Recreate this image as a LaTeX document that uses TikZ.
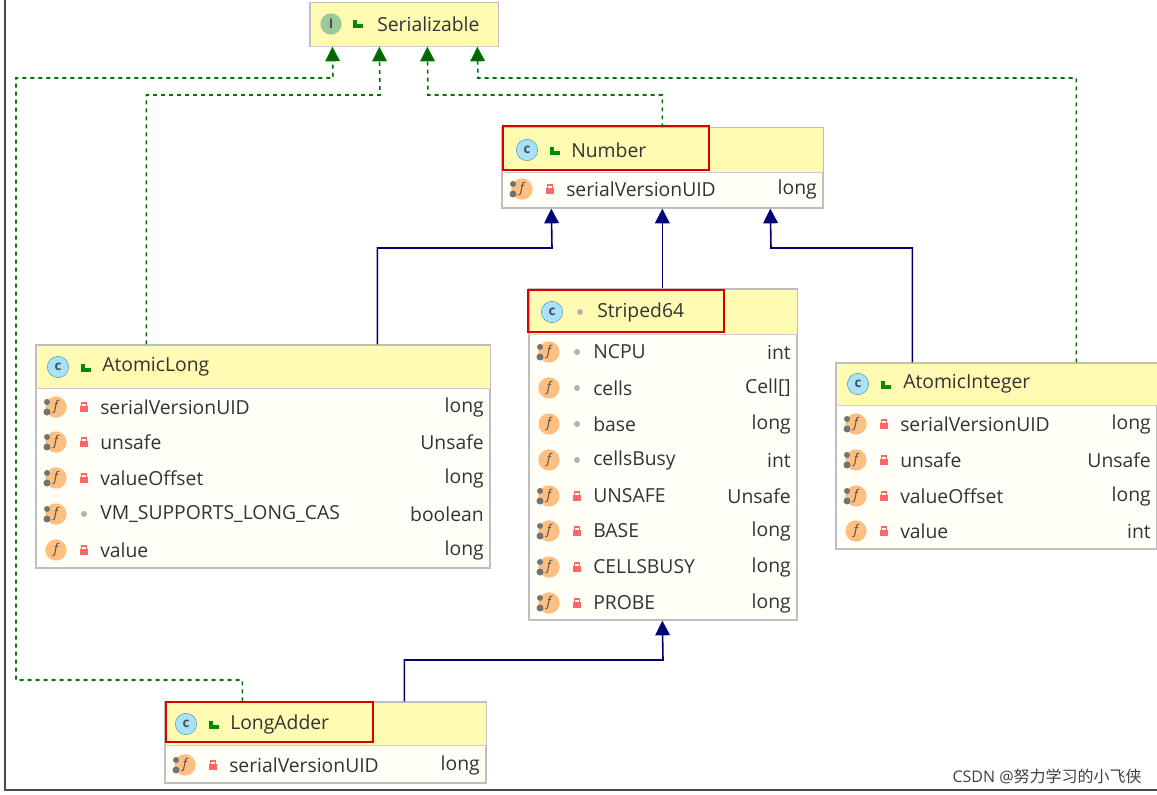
\documentclass[tikz,border=0pt]{standalone}
\usepackage{fontspec}
\setmainfont{Open Sans}
\newfontfamily\cjk{Noto Sans CJK SC}
\usetikzlibrary{fit,calc,arrows.meta}
\begin{document}
\begin{tikzpicture}[x=0.75pt,y=-0.75pt,
  box/.style={draw=black!25,fill=yellow!3,inner sep=0,line width=1pt},
  head/.style={fill=yellow!30},
  redbox/.style={draw=red!85!black,line width=1.6pt},
  impl/.style={draw=green!45!black,dashed,line width=1.2pt,-{Triangle[length=11pt,width=11pt,fill=green!40!black]}},
  ext/.style={draw=blue!45!black,line width=1.2pt,-{Triangle[length=11pt,width=11pt,fill=blue!50!black]}},
  txt/.style={font=\fontsize{14.5}{16}\selectfont,inner sep=0,anchor=west,text=black!80},
  ci/.style={circle,fill=cyan!35,draw=cyan!60!black,line width=0.3pt,inner sep=0,minimum size=16pt,font=\fontsize{10}{11}\selectfont\bfseries,text=black!70},
  fi/.style={circle,fill=orange!50,inner sep=0,minimum size=16pt,font=\fontsize{10}{11}\selectfont\itshape,text=black!70},
  ii/.style={circle,fill=green!30!gray!60,inner sep=0,minimum size=16pt,font=\fontsize{10}{11}\selectfont\bfseries,text=black!70},
]
\useasboundingbox (0,0) rectangle (1157,795);
\fill[white] (0,0) rectangle (1157,795);
\draw[black!70,line width=1pt] (5,0) -- (5,790) -- (1157,790);
\newcommand{\cls}[6]{% id x1 y1 x2 yhead y2
  \node[box,fit={(#2,#3) (#4,#6)}] (#1) {};
  \fill[head] (#2+0.5,#3+0.5) rectangle (#4-0.5,#5);
  \draw[black!20] (#2,#5) -- (#4,#5);}
\newcommand{\pub}[2]{\fill[green!55!black] (#1-5,#2-4) rectangle (#1-1,#2+4); \fill[green!55!black] (#1-1,#2) rectangle (#1+5,#2+4);}
\newcommand{\lck}[2]{\fill[red!60] (#1-4,#2-1) rectangle (#1+4,#2+5); \draw[red!60,line width=1.2pt] (#1-2.5,#2-1) -- (#1-2.5,#2-4) -- (#1+2.5,#2-4) -- (#1+2.5,#2-1);}
\newcommand{\dt}[2]{\fill[black!30] (#1,#2) circle (3);}
\newcommand{\frow}[7]{% x1 x2 y static(1/0) access(l/d) name type
  \node[fi] at (#1+20,#3) {f};
  \ifnum#4=1 \fill[black!55] (#1+11,#3+5) circle(3.5); \fill[black!55] (#1+11,#3-5) circle(3);\fi
  \if l#5 \lck{#1+48}{#3}\else \dt{#1+48}{#3}\fi
  \node[txt] at (#1+64,#3) {#6};
  \node[txt,anchor=east] at (#2-6,#3) {#7};}
% Serializable
\cls{ser}{310}{3}{498}{46}{46}
\node[ii] at (331,24) {I}; \pub{358}{24}
\node[txt] at (377,24) {Serializable};
% Number
\cls{num}{502}{128}{823}{172}{208}
\node[ci] at (527,150) {c}; \pub{555}{151}
\node[txt] at (571,150) {Number};
\frow{502}{823}{189}{1}{l}{serialVersionUID}{long}
\draw[redbox] (503,126) rectangle (709,170);
% Striped64
\cls{str}{529}{289}{797}{334}{620}
\node[ci] at (552,312) {c}; \dt{580}{312}
\node[txt] at (597,312) {Striped64};
\draw[redbox] (528,290) rectangle (724,332);
\frow{529}{797}{352}{1}{d}{NCPU}{int}
\frow{529}{797}{388}{0}{d}{cells}{Cell[]}
\frow{529}{797}{424}{0}{d}{base}{long}
\frow{529}{797}{460}{0}{d}{cellsBusy}{int}
\frow{529}{797}{496}{1}{l}{UNSAFE}{Unsafe}
\frow{529}{797}{531}{1}{l}{BASE}{long}
\frow{529}{797}{567}{1}{l}{CELLSBUSY}{long}
\frow{529}{797}{603}{1}{l}{PROBE}{long}
% AtomicLong
\cls{al}{36}{345}{490}{388}{568}
\node[ci] at (58,367) {c}; \pub{86}{368}
\node[txt] at (102,367) {AtomicLong};
\frow{36}{490}{407}{1}{l}{serialVersionUID}{long}
\frow{36}{490}{442}{1}{l}{unsafe}{Unsafe}
\frow{36}{490}{478}{1}{l}{valueOffset}{long}
\frow{36}{490}{514}{1}{d}{VM\_SUPPORTS\_LONG\_CAS}{boolean}
\frow{36}{490}{550}{0}{l}{value}{long}
% AtomicInteger
\cls{ai}{836}{363}{1157}{405}{549}
\node[ci] at (858,384) {c}; \pub{886}{385}
\node[txt] at (903,384) {AtomicInteger};
\frow{836}{1157}{424}{1}{l}{serialVersionUID}{long}
\frow{836}{1157}{460}{1}{l}{unsafe}{Unsafe}
\frow{836}{1157}{496}{1}{l}{valueOffset}{long}
\frow{836}{1157}{531}{0}{l}{value}{int}
% LongAdder
\cls{la}{165}{702}{486}{745}{783}
\node[ci] at (186,724) {c}; \pub{214}{725}
\node[txt] at (230,724) {LongAdder};
\frow{165}{486}{765}{1}{l}{serialVersionUID}{long}
\draw[redbox] (166,702) rectangle (373,742);
% implements
\draw[impl] ($(la.north west)+(78,0)$) |- (16,680) |- (333,78) -- ($(ser.south west)+(23,0)$);
\draw[impl] ($(al.north west)+(111,0)$) |- (380,95) -- ($(ser.south west)+(70,0)$);
\draw[impl] ($(num.north west)+(161,0)$) |- (428,95) -- ($(ser.south west)+(118,0)$);
\draw[impl] ($(ai.north west)+(241,0)$) |- (478,78) -- ($(ser.south west)+(168,0)$);
% extends
\draw[ext] ($(al.north west)+(342,0)$) |- (552,248) -- ($(num.south west)+(50,0)$);
\draw[ext] ($(str.north west)+(134,0)$) -- ($(num.south west)+(161,0)$);
\draw[ext] ($(ai.north west)+(77,0)$) |- (771,248) -- ($(num.south west)+(269,0)$);
\draw[ext] ($(la.north west)+(240,0)$) |- (663,660) -- ($(str.south west)+(134,0)$);
\node[txt,anchor=east,text=black!75,font=\fontsize{12}{13}\selectfont] (wm) at (1142,776) {CSDN @{\cjk 努力学习的小飞侠}};
\end{tikzpicture}
\end{document}
